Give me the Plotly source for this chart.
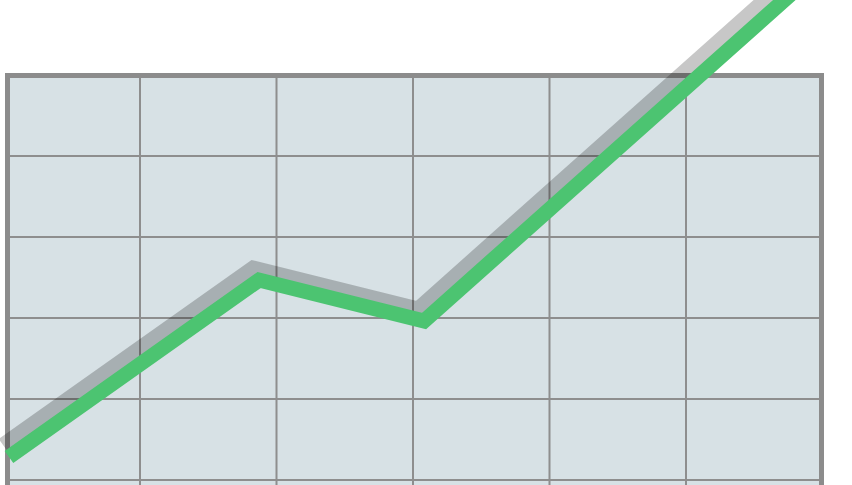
import plotly.graph_objects as go

# data (x: column units, y: row units)
x_vals = [0.04, 1.872, 3.081, 5.967]
y_vals = [0.284, 2.469, 1.963, 6.296]
grid_cols = [1, 2, 3, 4, 5]
grid_rows = [0, 1, 2, 3, 4]

# colours
green = '#4CC471'
shadow = 'rgba(0,0,0,0.22)'
box_fill = '#D7E1E5'
grid_col = '#8E8E8E'
border_col = '#8C8C8C'

W, H = 852, 485
px_x = 136.5   # pixels per column
px_y = 81.0    # pixels per row
x_range = [-3.5 / px_x, (W - 3.5) / px_x]
y_range = [(480 - H) / px_y, 480 / px_y]

# shadow offset in pixels (left / up)
sdx, sdy = -6 / px_x, 12 / px_y

fig = go.Figure()

# shadow sits on its own overlay axes, shifted; green on a later overlay so it's on top
fig.add_trace(go.Scatter(
    x=x_vals, y=y_vals, mode='lines',
    line=dict(color=shadow, width=15),
    xaxis='x2', yaxis='y2', hoverinfo='skip'
))
fig.add_trace(go.Scatter(
    x=x_vals, y=y_vals, mode='lines',
    line=dict(color=green, width=15),
    xaxis='x3', yaxis='y3', hoverinfo='skip'
))

bx0, bx1, by1 = 4 / px_x, 818 / px_x, 4.994
shapes = [dict(type='rect', xref='x', yref='y', x0=bx0, x1=bx1, y0=-1, y1=by1,
               fillcolor=box_fill, line=dict(width=0), layer='below')]
for c in grid_cols:
    shapes.append(dict(type='line', xref='x', yref='y', x0=c, x1=c, y0=-1, y1=by1,
                       line=dict(color=grid_col, width=2), layer='below'))
for r in grid_rows:
    shapes.append(dict(type='line', xref='x', yref='y', x0=bx0, x1=bx1, y0=r, y1=r,
                       line=dict(color=grid_col, width=2), layer='below'))
shapes.append(dict(type='rect', xref='x', yref='y', x0=bx0, x1=bx1, y0=-1, y1=by1,
                   fillcolor='rgba(0,0,0,0)', line=dict(color=border_col, width=5),
                   layer='below'))

axis_off = dict(visible=False, showgrid=False, zeroline=False, fixedrange=True)
fig.update_layout(
    width=W, height=H,
    margin=dict(l=0, r=0, t=0, b=0),
    paper_bgcolor='white', plot_bgcolor='rgba(0,0,0,0)',
    showlegend=False,
    xaxis=dict(range=x_range, domain=[0, 1], **axis_off),
    yaxis=dict(range=y_range, domain=[0, 1], **axis_off),
    xaxis2=dict(range=[x_range[0] - sdx, x_range[1] - sdx], overlaying='x', **axis_off),
    yaxis2=dict(range=[y_range[0] - sdy, y_range[1] - sdy], overlaying='y', **axis_off),
    xaxis3=dict(range=x_range, overlaying='x', **axis_off),
    yaxis3=dict(range=y_range, overlaying='y', **axis_off),
    shapes=shapes,
)

# page body has an 8px margin by default; drop it so the figure fills the window
fig.write_html("out.html", config={'displayModeBar': False},
               post_script="document.body.style.margin='0';document.body.style.overflow='hidden';")
